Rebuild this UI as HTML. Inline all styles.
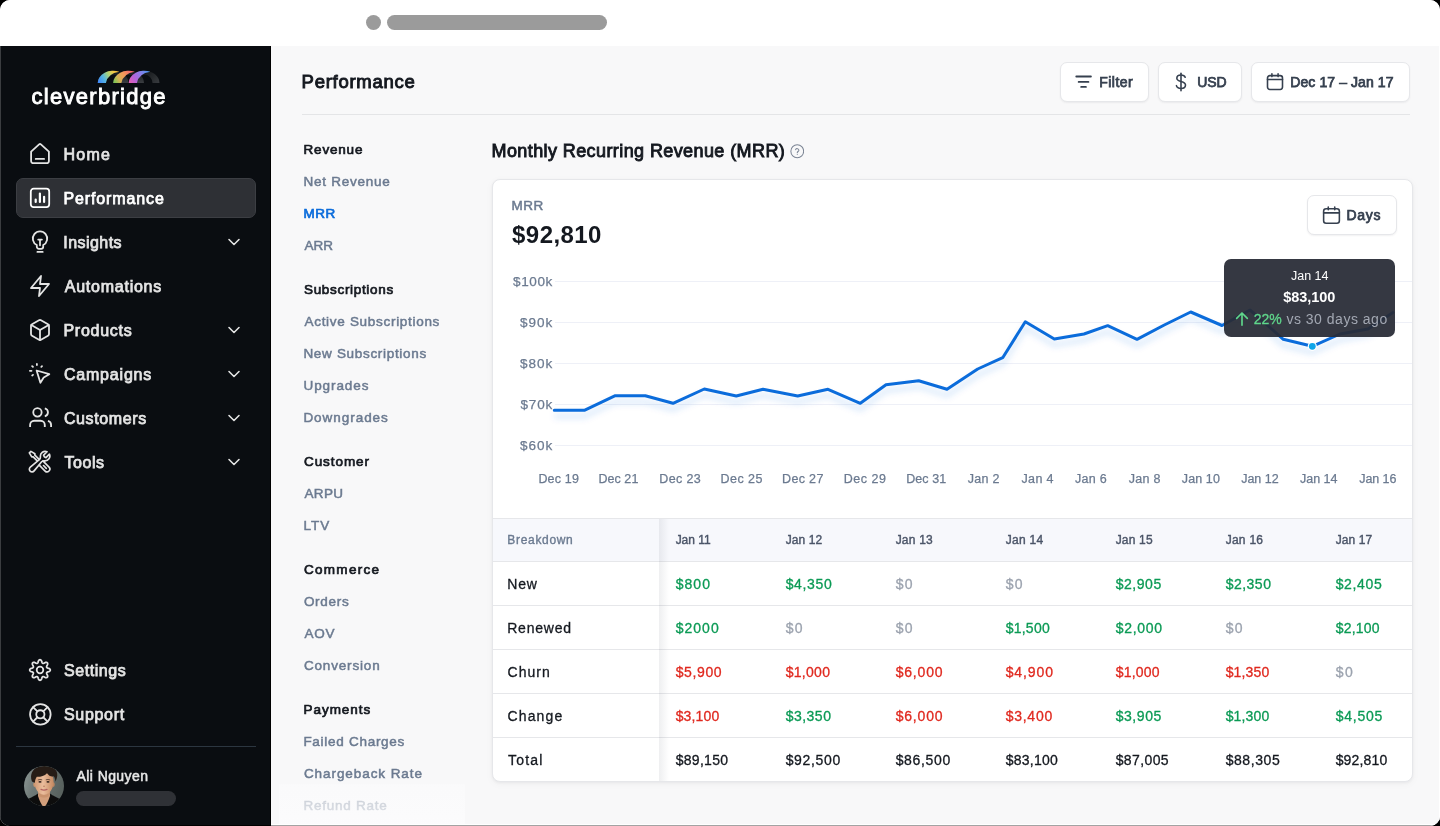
<!DOCTYPE html>
<html lang="en"><head><meta charset="utf-8"><title>Performance - MRR</title>
<style>
html,body{margin:0;padding:0;background:#000;}
body{width:1440px;height:826px;overflow:hidden;position:relative;font-family:"Liberation Sans", sans-serif;}
.b{position:absolute;box-sizing:border-box;}
.t{position:absolute;white-space:nowrap;line-height:1;font-family:"Liberation Sans", sans-serif;}
</style></head><body>
<div class="b" style="left:0;top:0;width:1440px;height:826px;border-radius:10px;overflow:hidden;background:#fff;will-change:transform;">
<div class="b" style="left:0px;top:0px;width:1440px;height:46px;background:#fff;"></div>
<div class="b" style="left:366px;top:15px;width:15px;height:15px;background:#9b9b9b;border-radius:50%;"></div>
<div class="b" style="left:387px;top:15px;width:220px;height:15px;background:#9b9b9b;border-radius:8px;"></div>
<div class="b" style="left:271px;top:46px;width:1169px;height:780px;background:#f8f8f9;"></div>
<div class="b" style="left:0px;top:46px;width:270px;height:780px;background:#0a0d11;"></div>
<div class="b" style="left:270px;top:46px;width:1px;height:780px;background:#000;"></div>
<div class="b" style="left:0px;top:46px;width:1px;height:780px;background:#3b3d40;"></div>
<div class="b" style="left:1439px;top:46px;width:1px;height:780px;background:#fff;"></div>
<div class="b" style="left:271px;top:824px;width:1169px;height:1px;background:#fff;"></div>
<div class="b" style="left:271px;top:825px;width:1169px;height:1px;background:#a3a3a3;"></div>
<div class="b" style="left:0px;top:825px;width:271px;height:1px;background:#000;"></div>
<svg class="b" style="left:90px;top:62px" width="76" height="24" viewBox="90 62 76 24"><defs><linearGradient id="g1" gradientUnits="userSpaceOnUse" x1="99" y1="83" x2="118" y2="71"><stop offset="0" stop-color="#3f86f7"/><stop offset="0.3" stop-color="#55b6e0"/><stop offset="0.55" stop-color="#a8d27a"/><stop offset="0.8" stop-color="#f3c846"/><stop offset="1" stop-color="#f6b93a"/></linearGradient><linearGradient id="g2" gradientUnits="userSpaceOnUse" x1="115" y1="83" x2="135" y2="70"><stop offset="0" stop-color="#7fc455"/><stop offset="0.22" stop-color="#d3b354"/><stop offset="0.5" stop-color="#f39a5a"/><stop offset="0.8" stop-color="#f4696c"/><stop offset="1" stop-color="#f05a70"/></linearGradient><linearGradient id="g3" gradientUnits="userSpaceOnUse" x1="130" y1="83" x2="150" y2="71"><stop offset="0" stop-color="#e35fb4"/><stop offset="0.3" stop-color="#b263dd"/><stop offset="0.6" stop-color="#8a7fe8"/><stop offset="1" stop-color="#3f9cf5"/></linearGradient><linearGradient id="g4" gradientUnits="userSpaceOnUse" x1="146" y1="71" x2="159" y2="83"><stop offset="0" stop-color="#17191c"/><stop offset="0.5" stop-color="#26292c"/><stop offset="1" stop-color="#383b3f"/></linearGradient><linearGradient id="g5" gradientUnits="userSpaceOnUse" x1="0" y1="74" x2="0" y2="83"><stop offset="0" stop-color="#1c1f22"/><stop offset="1" stop-color="#3a3d41"/></linearGradient></defs><path d="M97.70 83 A15.4 12.2 0 0 1 128.50 83 L121.50 83 A7.9 8.3 0 0 0 105.70 83 Z" fill="url(#g5)"/><path d="M113.20 83 A15.4 12.2 0 0 1 144.00 83 L137.00 83 A7.9 8.3 0 0 0 121.20 83 Z" fill="url(#g5)"/><path d="M128.70 83 A15.4 12.2 0 0 1 159.50 83 L152.50 83 A7.9 8.3 0 0 0 136.70 83 Z" fill="url(#g4)"/><path d="M97.70 83 A15.4 12.2 0 0 1 119.30 71.85 Q107.70 73.6 105.90 83 Z" fill="url(#g1)"/><path d="M113.20 83 A15.4 12.2 0 0 1 134.80 71.85 Q123.20 73.6 121.40 83 Z" fill="url(#g2)"/><path d="M128.70 83 A15.4 12.2 0 0 1 150.30 71.85 Q138.70 73.6 136.90 83 Z" fill="url(#g3)"/></svg>
<div class="t" style="left:31.50px;top:86px;font-size:22px;font-weight:400;color:#fff;letter-spacing:1.291px;-webkit-text-stroke:0.9px #fff;">cleverbridge</div>
<div class="b" style="left:16px;top:178px;width:240px;height:40px;background:#2e3035;border:1px solid #3c3e43;border-radius:7px;"></div>
<div class="t" style="left:63.40px;top:147px;font-size:16px;font-weight:400;color:#e4e4e4;letter-spacing:1.306px;-webkit-text-stroke:0.75px #e4e4e4;">Home</div>
<div class="t" style="left:63.40px;top:191px;font-size:16px;font-weight:400;color:#fff;letter-spacing:0.880px;-webkit-text-stroke:0.75px #fff;">Performance</div>
<div class="t" style="left:63.30px;top:235px;font-size:16px;font-weight:400;color:#e4e4e4;letter-spacing:0.451px;-webkit-text-stroke:0.75px #e4e4e4;">Insights</div>
<div class="t" style="left:64.70px;top:279px;font-size:16px;font-weight:400;color:#e4e4e4;letter-spacing:0.766px;-webkit-text-stroke:0.75px #e4e4e4;">Automations</div>
<div class="t" style="left:63.40px;top:323px;font-size:16px;font-weight:400;color:#e4e4e4;letter-spacing:0.751px;-webkit-text-stroke:0.75px #e4e4e4;">Products</div>
<div class="t" style="left:63.90px;top:367px;font-size:16px;font-weight:400;color:#e4e4e4;letter-spacing:0.809px;-webkit-text-stroke:0.75px #e4e4e4;">Campaigns</div>
<div class="t" style="left:63.90px;top:411px;font-size:16px;font-weight:400;color:#e4e4e4;letter-spacing:0.631px;-webkit-text-stroke:0.75px #e4e4e4;">Customers</div>
<div class="t" style="left:64.40px;top:455px;font-size:16px;font-weight:400;color:#e4e4e4;letter-spacing:0.587px;-webkit-text-stroke:0.75px #e4e4e4;">Tools</div>
<div class="t" style="left:64.00px;top:663px;font-size:16px;font-weight:400;color:#e4e4e4;letter-spacing:0.555px;-webkit-text-stroke:0.75px #e4e4e4;">Settings</div>
<div class="t" style="left:64.00px;top:707px;font-size:16px;font-weight:400;color:#e4e4e4;letter-spacing:0.684px;-webkit-text-stroke:0.75px #e4e4e4;">Support</div>
<svg class="b" style="left:224px;top:232px;" width="20" height="20" viewBox="0 0 24 24" fill="none" stroke="#e4e4e4" stroke-width="1.9" stroke-linecap="round" stroke-linejoin="round"><path d="m6 9 6 6 6-6"/></svg>
<svg class="b" style="left:224px;top:320px;" width="20" height="20" viewBox="0 0 24 24" fill="none" stroke="#e4e4e4" stroke-width="1.9" stroke-linecap="round" stroke-linejoin="round"><path d="m6 9 6 6 6-6"/></svg>
<svg class="b" style="left:224px;top:364px;" width="20" height="20" viewBox="0 0 24 24" fill="none" stroke="#e4e4e4" stroke-width="1.9" stroke-linecap="round" stroke-linejoin="round"><path d="m6 9 6 6 6-6"/></svg>
<svg class="b" style="left:224px;top:408px;" width="20" height="20" viewBox="0 0 24 24" fill="none" stroke="#e4e4e4" stroke-width="1.9" stroke-linecap="round" stroke-linejoin="round"><path d="m6 9 6 6 6-6"/></svg>
<svg class="b" style="left:224px;top:452px;" width="20" height="20" viewBox="0 0 24 24" fill="none" stroke="#e4e4e4" stroke-width="1.9" stroke-linecap="round" stroke-linejoin="round"><path d="m6 9 6 6 6-6"/></svg>
<svg class="b" style="left:28px;top:142px;" width="24" height="24" viewBox="0 0 24 24" fill="none" stroke="#e4e4e4" stroke-width="1.8" stroke-linecap="round" stroke-linejoin="round"><path d="M3.100 9.600 11.100 2.400a1.400 1.400 0 0 1 1.800 0l8 7.200V19a2.200 2.200 0 0 1-2.200 2.200H5.300A2.200 2.200 0 0 1 3.100 19z"/><path d="M7.700 16.900h8.400"/></svg>
<svg class="b" style="left:28px;top:186px;" width="24" height="24" viewBox="0 0 24 24" fill="none" stroke="#fff" stroke-width="1.8" stroke-linecap="round" stroke-linejoin="round"><rect x="2.800" y="2.700" width="18.400" height="18.400" rx="2.800"/><path stroke-width="2.200" d="M7.700 16v-2.500M11.900 16V7.600M16.100 16v-5.200"/></svg>
<svg class="b" style="left:28px;top:230px;" width="24" height="24" viewBox="0 0 24 24" fill="none" stroke="#e4e4e4" stroke-width="1.8" stroke-linecap="round" stroke-linejoin="round"><path d="M8.800 15.050A7.200 7.200 0 1 1 15.200 15.050V16.800A2 2 0 0 1 13.200 18.800H10.800A2 2 0 0 1 8.800 16.800Z"/><path d="M10.200 9.600H13.900M12 9.600V15.300M9.400 21.900H14.700"/></svg>
<svg class="b" style="left:28.1px;top:273.9px;" width="24" height="24" viewBox="0 0 24 24" fill="none" stroke="#e4e4e4" stroke-width="1.8" stroke-linecap="round" stroke-linejoin="round"><path d="M13 2 3 14h9l-1 8 10-12h-9l1-8z"/></svg>
<svg class="b" style="left:28px;top:318px;" width="24" height="24" viewBox="0 0 24 24" fill="none" stroke="#e4e4e4" stroke-width="1.8" stroke-linecap="round" stroke-linejoin="round"><path d="M21 8a2 2 0 0 0-1-1.73l-7-4a2 2 0 0 0-2 0l-7 4A2 2 0 0 0 3 8v8a2 2 0 0 0 1 1.730l7 4a2 2 0 0 0 2 0l7-4A2 2 0 0 0 21 16Z"/><path d="m3.300 7 8.700 5 8.700-5"/><path d="M12 22V12"/></svg>
<svg class="b" style="left:28px;top:362px;" width="24" height="24" viewBox="0 0 24 24" fill="none" stroke="#e4e4e4" stroke-width="1.8" stroke-linecap="round" stroke-linejoin="round"><path d="M8.600 8.500 21.300 12.200 15.700 15.500 12.400 20.700Z"/><path d="M8.900 1.900V3M4.100 4.100 4.900 4.800M14 4.100 13.300 4.800M1.900 8.800H3.500M4.200 13.500 5 12.900"/></svg>
<svg class="b" style="left:27.6px;top:405.3px;stroke-linecap:butt;" width="25.2" height="25.2" viewBox="0 0 24 24" fill="none" stroke="#e4e4e4" stroke-width="1.75" stroke-linecap="round" stroke-linejoin="round"><path d="M16 21v-2a4 4 0 0 0-4-4H6a4 4 0 0 0-4 4v2"/><circle cx="9" cy="7" r="4"/><path d="M22 21v-2a4 4 0 0 0-3-3.870"/><path d="M16 3.130a4 4 0 0 1 0 7.750"/></svg>
<svg class="b" style="left:27.4px;top:448.8px;" width="25.2" height="25.2" viewBox="0 0 24 24" fill="none" stroke="#e4e4e4" stroke-width="1.6" stroke-linecap="round" stroke-linejoin="round"><path d="M11.420 15.170 17.250 21A2.652 2.652 0 0 0 21 17.250l-5.877-5.877M11.420 15.170l2.496-3.030c.317-.384.740-.626 1.208-.766M11.420 15.170l-4.655 5.653a2.548 2.548 0 1 1-3.586-3.586l6.837-5.630m5.108-.233c.550-.164 1.163-.188 1.743-.140a4.500 4.500 0 0 0 4.486-6.336l-3.276 3.277a3.004 3.004 0 0 1-2.250-2.250l3.276-3.276a4.500 4.500 0 0 0-6.336 4.486c.091 1.076-.071 2.264-.904 2.950l-.102.085m-1.745 1.437L5.909 7.500H4.500L2.250 3.750l1.500-1.500L7.500 4.500v1.409l4.260 4.260m-1.745 1.437 1.745-1.437m6.615 8.206L15.750 15.750"/></svg>
<svg class="b" style="left:28px;top:658px;" width="24" height="24" viewBox="0 0 24 24" fill="none" stroke="#e4e4e4" stroke-width="1.75" stroke-linecap="round" stroke-linejoin="round"><path d="M12.00 1.70 L12.40 1.77 L12.79 1.96 L13.15 2.28 L13.47 2.72 L13.71 3.42 L13.89 4.12 L14.09 4.58 L14.30 4.94 L14.51 5.19 L14.76 5.35 L15.04 5.41 L15.37 5.38 L15.77 5.27 L16.24 5.09 L16.86 4.72 L17.52 4.40 L18.06 4.31 L18.54 4.34 L18.95 4.48 L19.28 4.72 L19.52 5.05 L19.66 5.46 L19.69 5.94 L19.60 6.48 L19.28 7.14 L18.91 7.76 L18.73 8.23 L18.62 8.63 L18.59 8.96 L18.65 9.24 L18.81 9.49 L19.06 9.70 L19.42 9.91 L19.88 10.11 L20.58 10.29 L21.28 10.53 L21.72 10.85 L22.04 11.21 L22.23 11.60 L22.30 12.00 L22.23 12.40 L22.04 12.79 L21.72 13.15 L21.28 13.47 L20.58 13.71 L19.88 13.89 L19.42 14.09 L19.06 14.30 L18.81 14.51 L18.65 14.76 L18.59 15.04 L18.62 15.37 L18.73 15.77 L18.91 16.24 L19.28 16.86 L19.60 17.52 L19.69 18.06 L19.66 18.54 L19.52 18.95 L19.28 19.28 L18.95 19.52 L18.54 19.66 L18.06 19.69 L17.52 19.60 L16.86 19.28 L16.24 18.91 L15.77 18.73 L15.37 18.62 L15.04 18.59 L14.76 18.65 L14.51 18.81 L14.30 19.06 L14.09 19.42 L13.89 19.88 L13.71 20.58 L13.47 21.28 L13.15 21.72 L12.79 22.04 L12.40 22.23 L12.00 22.30 L11.60 22.23 L11.21 22.04 L10.85 21.72 L10.53 21.28 L10.29 20.58 L10.11 19.88 L9.91 19.42 L9.70 19.06 L9.49 18.81 L9.24 18.65 L8.96 18.59 L8.63 18.62 L8.23 18.73 L7.76 18.91 L7.14 19.28 L6.48 19.60 L5.94 19.69 L5.46 19.66 L5.05 19.52 L4.72 19.28 L4.48 18.95 L4.34 18.54 L4.31 18.06 L4.40 17.52 L4.72 16.86 L5.09 16.24 L5.27 15.77 L5.38 15.37 L5.41 15.04 L5.35 14.76 L5.19 14.51 L4.94 14.30 L4.58 14.09 L4.12 13.89 L3.42 13.71 L2.72 13.47 L2.28 13.15 L1.96 12.79 L1.77 12.40 L1.70 12.00 L1.77 11.60 L1.96 11.21 L2.28 10.85 L2.72 10.53 L3.42 10.29 L4.12 10.11 L4.58 9.91 L4.94 9.70 L5.19 9.49 L5.35 9.24 L5.41 8.96 L5.38 8.63 L5.27 8.23 L5.09 7.76 L4.72 7.14 L4.40 6.48 L4.31 5.94 L4.34 5.46 L4.48 5.05 L4.72 4.72 L5.05 4.48 L5.46 4.34 L5.94 4.31 L6.48 4.40 L7.14 4.72 L7.76 5.09 L8.23 5.27 L8.63 5.38 L8.96 5.41 L9.24 5.35 L9.49 5.19 L9.70 4.94 L9.91 4.58 L10.11 4.12 L10.29 3.42 L10.53 2.72 L10.85 2.28 L11.21 1.96 L11.60 1.77Z"/><circle cx="12" cy="12" r="3.300"/></svg>
<svg class="b" style="left:27.65px;top:701.65px;" width="24.7" height="24.7" viewBox="0 0 24 24" fill="none" stroke="#e4e4e4" stroke-width="1.75" stroke-linecap="round" stroke-linejoin="round"><circle cx="12" cy="12" r="10"/><path d="m4.930 4.930 4.240 4.240"/><path d="m14.830 9.170 4.240-4.240"/><path d="m14.830 14.830 4.240 4.240"/><path d="m9.170 14.830-4.240 4.240"/><circle cx="12" cy="12" r="4"/></svg>
<div class="b" style="left:16px;top:746px;width:240px;height:1px;background:#2c3640;"></div>
<svg class="b" style="left:24px;top:766px" width="40" height="40" viewBox="0 0 40 40">
<defs><clipPath id="av"><circle cx="20" cy="20" r="20"/></clipPath>
<linearGradient id="avbg" x1="0" y1="0" x2="1" y2="0.3"><stop offset="0" stop-color="#8f9997"/><stop offset="0.35" stop-color="#6f7a78"/><stop offset="1" stop-color="#59625f"/></linearGradient>
<linearGradient id="avsk" x1="0" y1="0" x2="1" y2="0"><stop offset="0" stop-color="#d19a74"/><stop offset="0.45" stop-color="#eabd9c"/><stop offset="1" stop-color="#c58a62"/></linearGradient>
<filter id="avbl" x="-10%" y="-10%" width="120%" height="120%"><feGaussianBlur stdDeviation="0.550"/></filter></defs>
<g clip-path="url(#av)"><rect width="40" height="40" fill="url(#avbg)"/>
<g filter="url(#avbl)">
<path d="M-2 37 C4 32 11 30.500 15 26.500 L25 26.500 C29 30.500 36 32 42 37 L42 42 L-2 42 Z" fill="#0b0b0c"/>
<path d="M14.300 22 L25.700 22 L26 30 C24.500 35 22 39.500 20.600 41 L19.400 41 C17.800 39 15.500 35 14 30 Z" fill="#d39f7b"/>
<ellipse cx="10.600" cy="18.600" rx="1.300" ry="2.300" fill="#c9946f"/><ellipse cx="29.400" cy="18.600" rx="1.300" ry="2.300" fill="#b98562"/>
<path d="M10.400 15 C10.400 9 14 5.500 20 5.500 C26 5.500 29.600 9 29.600 15 C29.600 21 27 26 23.500 28 C21.500 29.100 18.500 29.100 16.500 28 C13 26 10.400 21 10.400 15 Z" fill="url(#avsk)"/>
<path d="M15.500 27 C18 29.500 22 29.500 24.500 27 L25 30 C22 32 18 32 15 30 Z" fill="#c58d68" opacity="0.700"/>
<path d="M7.800 15 C5.800 9 8 2.800 14.500 1 C20 -0.800 28 0 31.400 3.800 C34.200 7 33.600 11.500 31.400 15.600 C31.200 13 30.800 11.600 29.800 10.200 C27.500 11.400 24.800 9.600 23 7.200 C20.500 10 16 11 12.800 10.800 C11.600 12.200 11.200 14 10.800 16.800 C9.600 16.400 8.400 16 7.800 15 Z" fill="#251c18"/>
<path d="M13.800 14 Q16 13 18.200 13.900 M21.800 13.900 Q24 13 26.200 14" stroke="#4a3429" stroke-width="0.800" fill="none"/>
<ellipse cx="16" cy="15.900" rx="1.600" ry="0.800" fill="#35261f"/><ellipse cx="24" cy="15.900" rx="1.600" ry="0.800" fill="#35261f"/>
<path d="M19 20 Q20 20.900 21 20" stroke="#b57d5c" stroke-width="0.900" fill="none"/>
<path d="M17 23.400 Q20 24.700 23 23.400" stroke="#b2625f" stroke-width="1.200" fill="none" stroke-linecap="round"/>
</g></g></svg>
<div class="t" style="left:76.50px;top:769px;font-size:14px;font-weight:400;color:#e8e8e8;letter-spacing:0.420px;-webkit-text-stroke:0.5px #e8e8e8;">Ali Nguyen</div>
<div class="b" style="left:76px;top:791px;width:100px;height:15px;background:#2f3136;border-radius:8px;"></div>
<div class="t" style="left:301.60px;top:73px;font-size:18.5px;font-weight:400;color:#14181f;letter-spacing:0.718px;-webkit-text-stroke:0.95px #14181f;">Performance</div>
<div class="b" style="left:302px;top:114px;width:1108px;height:1px;background:#e4e5e7;"></div>
<div class="b" style="left:1060px;top:62px;width:89px;height:39.5px;background:#fff;border:1px solid #e6e7ea;border-radius:7px;box-shadow:0 1px 2px rgba(16,24,40,0.06);"></div>
<div class="b" style="left:1158px;top:62px;width:84px;height:39.5px;background:#fff;border:1px solid #e6e7ea;border-radius:7px;box-shadow:0 1px 2px rgba(16,24,40,0.06);"></div>
<div class="b" style="left:1251px;top:62px;width:158.5px;height:39.5px;background:#fff;border:1px solid #e6e7ea;border-radius:7px;box-shadow:0 1px 2px rgba(16,24,40,0.06);"></div>
<svg class="b" style="left:1072px;top:70px;" width="24" height="24" viewBox="0 0 24 24" fill="none" stroke="#36404f" stroke-width="1.9" stroke-linecap="round" stroke-linejoin="round"><path d="M4.300 6.500h14.600M6.700 11.900h9.700M9.200 16.900h4.700"/></svg>
<div class="t" style="left:1099.30px;top:75px;font-size:14px;font-weight:400;color:#36404f;letter-spacing:0.450px;-webkit-text-stroke:0.75px #36404f;">Filter</div>
<svg class="b" style="left:1171px;top:72px;" width="20" height="20" viewBox="0 0 24 24" fill="none" stroke="#36404f" stroke-width="1.9" stroke-linecap="round" stroke-linejoin="round"><path d="M12 1.500v21"/><path d="M17 6.200c-.6-1.600-2.400-2.700-5-2.700-3 0-5 1.500-5 3.900 0 5.200 10.400 2.600 10.400 8.200 0 2.600-2.300 4.100-5.400 4.100-2.900 0-5-1.300-5.500-3.300"/></svg>
<div class="t" style="left:1197.20px;top:75px;font-size:14px;font-weight:400;color:#36404f;letter-spacing:-0.124px;-webkit-text-stroke:0.75px #36404f;">USD</div>
<svg class="b" style="left:1264.5px;top:71.5px;" width="20" height="20" viewBox="0 0 24 24" fill="none" stroke="#36404f" stroke-width="1.9" stroke-linecap="round" stroke-linejoin="round"><rect x="3" y="4.300" width="18" height="16.600" rx="2.800"/><path d="M3 9h18M8.300 2.200v3.300M15.700 2.200v3.300"/></svg>
<div class="t" style="left:1290.30px;top:75px;font-size:14px;font-weight:400;color:#36404f;letter-spacing:0.088px;-webkit-text-stroke:0.75px #36404f;">Dec 17 – Jan 17</div>
<div class="t" style="left:303.50px;top:143px;font-size:13.5px;font-weight:400;color:#14181f;letter-spacing:0.811px;-webkit-text-stroke:0.7px #14181f;">Revenue</div>
<div class="t" style="left:303.40px;top:175px;font-size:13.5px;font-weight:400;color:#6b7a90;letter-spacing:0.751px;-webkit-text-stroke:0.5px #6b7a90;">Net Revenue</div>
<div class="t" style="left:303.50px;top:207px;font-size:13.5px;font-weight:400;color:#0b6cdb;letter-spacing:0.553px;-webkit-text-stroke:0.7px #0b6cdb;">MRR</div>
<div class="t" style="left:304.50px;top:239px;font-size:13.5px;font-weight:400;color:#6b7a90;letter-spacing:0.023px;-webkit-text-stroke:0.5px #6b7a90;">ARR</div>
<div class="t" style="left:304.00px;top:283px;font-size:13.5px;font-weight:400;color:#14181f;letter-spacing:0.676px;-webkit-text-stroke:0.7px #14181f;">Subscriptions</div>
<div class="t" style="left:304.50px;top:315px;font-size:13.5px;font-weight:400;color:#6b7a90;letter-spacing:0.700px;-webkit-text-stroke:0.5px #6b7a90;">Active Subscriptions</div>
<div class="t" style="left:303.40px;top:347px;font-size:13.5px;font-weight:400;color:#6b7a90;letter-spacing:0.685px;-webkit-text-stroke:0.5px #6b7a90;">New Subscriptions</div>
<div class="t" style="left:303.50px;top:379px;font-size:13.5px;font-weight:400;color:#6b7a90;letter-spacing:0.916px;-webkit-text-stroke:0.5px #6b7a90;">Upgrades</div>
<div class="t" style="left:303.40px;top:411px;font-size:13.5px;font-weight:400;color:#6b7a90;letter-spacing:0.962px;-webkit-text-stroke:0.5px #6b7a90;">Downgrades</div>
<div class="t" style="left:304.00px;top:455px;font-size:13.5px;font-weight:400;color:#14181f;letter-spacing:0.926px;-webkit-text-stroke:0.7px #14181f;">Customer</div>
<div class="t" style="left:304.50px;top:487px;font-size:13.5px;font-weight:400;color:#6b7a90;letter-spacing:0.314px;-webkit-text-stroke:0.5px #6b7a90;">ARPU</div>
<div class="t" style="left:303.40px;top:519px;font-size:13.5px;font-weight:400;color:#6b7a90;letter-spacing:1.024px;-webkit-text-stroke:0.5px #6b7a90;">LTV</div>
<div class="t" style="left:304.00px;top:563px;font-size:13.5px;font-weight:400;color:#14181f;letter-spacing:1.285px;-webkit-text-stroke:0.7px #14181f;">Commerce</div>
<div class="t" style="left:303.90px;top:595px;font-size:13.5px;font-weight:400;color:#6b7a90;letter-spacing:0.698px;-webkit-text-stroke:0.5px #6b7a90;">Orders</div>
<div class="t" style="left:304.50px;top:627px;font-size:13.5px;font-weight:400;color:#6b7a90;letter-spacing:0.697px;-webkit-text-stroke:0.5px #6b7a90;">AOV</div>
<div class="t" style="left:303.90px;top:659px;font-size:13.5px;font-weight:400;color:#6b7a90;letter-spacing:0.836px;-webkit-text-stroke:0.5px #6b7a90;">Conversion</div>
<div class="t" style="left:303.50px;top:703px;font-size:13.5px;font-weight:400;color:#14181f;letter-spacing:0.961px;-webkit-text-stroke:0.7px #14181f;">Payments</div>
<div class="t" style="left:303.40px;top:735px;font-size:13.5px;font-weight:400;color:#6b7a90;letter-spacing:0.723px;-webkit-text-stroke:0.5px #6b7a90;">Failed Charges</div>
<div class="t" style="left:303.90px;top:767px;font-size:13.5px;font-weight:400;color:#6b7a90;letter-spacing:0.932px;-webkit-text-stroke:0.5px #6b7a90;">Chargeback Rate</div>
<div class="t" style="left:303.40px;top:799px;font-size:13.5px;font-weight:400;color:#6b7a90;letter-spacing:0.751px;-webkit-text-stroke:0.5px #6b7a90;">Refund Rate</div>
<div class="b" style="left:279px;top:784px;width:186px;height:40px;background:linear-gradient(to bottom,rgba(251,251,252,0.6),rgba(252,252,253,0.82));"></div>
<div class="t" style="left:491.50px;top:142px;font-size:18px;font-weight:400;color:#14181f;letter-spacing:0.407px;-webkit-text-stroke:0.9px #14181f;">Monthly Recurring Revenue (MRR)</div>
<svg class="b" style="left:789.5px;top:144.3px;" width="14.5" height="14.5" viewBox="0 0 24 24" fill="none" stroke="#7b8494" stroke-width="1.7" stroke-linecap="round" stroke-linejoin="round"><circle cx="12" cy="12" r="10.600"/><path d="M9.300 9.400a2.800 2.800 0 0 1 5.400 .9c0 1.900-2.700 2.300-2.700 4"/><path d="M12 17.300v.1"/></svg>
<div class="b" style="left:492px;top:179px;width:921px;height:603px;background:#fff;border:1px solid #e6e7ea;border-radius:8px;box-shadow:0 1px 3px rgba(16,24,40,0.05),0 2px 8px rgba(16,24,40,0.035);"></div>
<div class="t" style="left:511.40px;top:199px;font-size:13.5px;font-weight:400;color:#6b7a90;letter-spacing:0.503px;-webkit-text-stroke:0.5px #6b7a90;">MRR</div>
<div class="t" style="left:512.10px;top:223px;font-size:24px;font-weight:700;color:#14181f;letter-spacing:0.432px;">$92,810</div>
<div class="b" style="left:1307px;top:195px;width:89.5px;height:39.5px;background:#fff;border:1px solid #e6e7ea;border-radius:7px;box-shadow:0 1px 2px rgba(16,24,40,0.06);"></div>
<svg class="b" style="left:1320.8px;top:205px;" width="21" height="21" viewBox="0 0 24 24" fill="none" stroke="#36404f" stroke-width="1.8" stroke-linecap="round" stroke-linejoin="round"><rect x="3" y="4.300" width="18" height="16.600" rx="2.800"/><path d="M3 9h18M8.300 2.200v3.300M15.700 2.200v3.300"/></svg>
<div class="t" style="left:1346.40px;top:208px;font-size:14px;font-weight:400;color:#36404f;letter-spacing:0.735px;-webkit-text-stroke:0.75px #36404f;">Days</div>
<div class="b" style="left:555px;top:281px;width:857px;height:1px;background:#eef0f7;"></div>
<div class="t" style="left:513.00px;top:275px;font-size:13.5px;font-weight:400;color:#6b7a90;letter-spacing:0.642px;-webkit-text-stroke:0.25px #6b7a90;">$100k</div>
<div class="b" style="left:555px;top:322px;width:857px;height:1px;background:#eef0f7;"></div>
<div class="t" style="left:519.90px;top:316px;font-size:13.5px;font-weight:400;color:#6b7a90;letter-spacing:1.059px;-webkit-text-stroke:0.25px #6b7a90;">$90k</div>
<div class="b" style="left:555px;top:363px;width:857px;height:1px;background:#eef0f7;"></div>
<div class="t" style="left:519.90px;top:357px;font-size:13.5px;font-weight:400;color:#6b7a90;letter-spacing:1.059px;-webkit-text-stroke:0.25px #6b7a90;">$80k</div>
<div class="b" style="left:555px;top:404px;width:857px;height:1px;background:#eef0f7;"></div>
<div class="t" style="left:520.40px;top:398px;font-size:13.5px;font-weight:400;color:#6b7a90;letter-spacing:0.892px;-webkit-text-stroke:0.25px #6b7a90;">$70k</div>
<div class="b" style="left:555px;top:445px;width:857px;height:1px;background:#eef0f7;"></div>
<div class="t" style="left:519.90px;top:439px;font-size:13.5px;font-weight:400;color:#6b7a90;letter-spacing:1.059px;-webkit-text-stroke:0.25px #6b7a90;">$60k</div>
<div class="t" style="left:538.40px;top:473px;font-size:12.5px;font-weight:400;color:#6b7a90;letter-spacing:0.189px;-webkit-text-stroke:0.25px #6b7a90;">Dec 19</div>
<div class="t" style="left:598.40px;top:473px;font-size:12.5px;font-weight:400;color:#6b7a90;letter-spacing:0.069px;-webkit-text-stroke:0.25px #6b7a90;">Dec 21</div>
<div class="t" style="left:659.30px;top:473px;font-size:12.5px;font-weight:400;color:#6b7a90;letter-spacing:0.369px;-webkit-text-stroke:0.25px #6b7a90;">Dec 23</div>
<div class="t" style="left:720.60px;top:473px;font-size:12.5px;font-weight:400;color:#6b7a90;letter-spacing:0.429px;-webkit-text-stroke:0.25px #6b7a90;">Dec 25</div>
<div class="t" style="left:782.10px;top:473px;font-size:12.5px;font-weight:400;color:#6b7a90;letter-spacing:0.329px;-webkit-text-stroke:0.25px #6b7a90;">Dec 27</div>
<div class="t" style="left:843.70px;top:473px;font-size:12.5px;font-weight:400;color:#6b7a90;letter-spacing:0.509px;-webkit-text-stroke:0.25px #6b7a90;">Dec 29</div>
<div class="t" style="left:906.20px;top:473px;font-size:12.5px;font-weight:400;color:#6b7a90;letter-spacing:0.069px;-webkit-text-stroke:0.25px #6b7a90;">Dec 31</div>
<div class="t" style="left:967.70px;top:473px;font-size:12.5px;font-weight:400;color:#6b7a90;letter-spacing:0.318px;-webkit-text-stroke:0.25px #6b7a90;">Jan 2</div>
<div class="t" style="left:1021.50px;top:473px;font-size:12.5px;font-weight:400;color:#6b7a90;letter-spacing:0.343px;-webkit-text-stroke:0.25px #6b7a90;">Jan 4</div>
<div class="t" style="left:1074.90px;top:473px;font-size:12.5px;font-weight:400;color:#6b7a90;letter-spacing:0.318px;-webkit-text-stroke:0.25px #6b7a90;">Jan 6</div>
<div class="t" style="left:1128.70px;top:473px;font-size:12.5px;font-weight:400;color:#6b7a90;letter-spacing:0.293px;-webkit-text-stroke:0.25px #6b7a90;">Jan 8</div>
<div class="t" style="left:1181.80px;top:473px;font-size:12.5px;font-weight:400;color:#6b7a90;letter-spacing:0.104px;-webkit-text-stroke:0.25px #6b7a90;">Jan 10</div>
<div class="t" style="left:1241.20px;top:473px;font-size:12.5px;font-weight:400;color:#6b7a90;letter-spacing:-0.016px;-webkit-text-stroke:0.25px #6b7a90;">Jan 12</div>
<div class="t" style="left:1299.90px;top:473px;font-size:12.5px;font-weight:400;color:#6b7a90;letter-spacing:0.024px;-webkit-text-stroke:0.25px #6b7a90;">Jan 14</div>
<div class="t" style="left:1359.30px;top:473px;font-size:12.5px;font-weight:400;color:#6b7a90;letter-spacing:-0.096px;-webkit-text-stroke:0.25px #6b7a90;">Jan 16</div>
<svg class="b" style="left:492px;top:250px" width="921" height="220" viewBox="492 250 921 220">
<defs><filter id="sh" x="-5%" y="-30%" width="110%" height="180%"><feGaussianBlur stdDeviation="3"/></filter></defs>
<polyline points="554.3,410.3 584.3,410.3 615.3,395.7 645.3,395.7 673.0,403.3 704.3,389.0 736.3,396.0 763.0,389.3 797.7,396.0 828.0,389.3 860.3,403.3 886.0,384.7 918.7,380.7 947.0,389.3 977.7,369.0 1002.7,357.7 1025.3,321.7 1054.3,339.0 1084.0,334.0 1107.7,325.7 1137.0,339.3 1164.3,325.0 1190.7,312.0 1222.0,325.5 1250.0,310.0 1283.3,339.3 1312.3,346.3 1340.0,334.0 1368.0,329.0 1393.0,312.5" fill="none" stroke="#0b6cdb" stroke-opacity="0.17" stroke-width="4" transform="translate(0,6)" filter="url(#sh)"/>
<polyline points="554.3,410.3 584.3,410.3 615.3,395.7 645.3,395.7 673.0,403.3 704.3,389.0 736.3,396.0 763.0,389.3 797.7,396.0 828.0,389.3 860.3,403.3 886.0,384.7 918.7,380.7 947.0,389.3 977.7,369.0 1002.7,357.7 1025.3,321.7 1054.3,339.0 1084.0,334.0 1107.7,325.7 1137.0,339.3 1164.3,325.0 1190.7,312.0 1222.0,325.5 1250.0,310.0 1283.3,339.3 1312.3,346.3 1340.0,334.0 1368.0,329.0 1393.0,312.5" fill="none" stroke="#0b6cdb" stroke-width="3" stroke-linejoin="round" stroke-linecap="round"/>
<circle cx="1312.3" cy="346.300" r="4.600" fill="#fff"/><circle cx="1312.300" cy="346.300" r="3.400" fill="#0ea5e9"/>
</svg>
<div class="b" style="left:1224px;top:259px;width:171px;height:78px;background:rgba(40,44,54,0.94);border-radius:7px;"></div>
<div class="t" style="left:1290.90px;top:270px;font-size:12.5px;font-weight:400;color:#fff;letter-spacing:0.024px;">Jan 14</div>
<div class="t" style="left:1283.20px;top:290px;font-size:14.5px;font-weight:700;color:#fff;letter-spacing:-0.042px;">$83,100</div>
<svg class="b" style="left:1232px;top:308.8px;" width="20" height="20" viewBox="0 0 24 24" fill="none" stroke="#5fd68b" stroke-width="2" stroke-linecap="round" stroke-linejoin="round"><path d="M12 19.500V4.800M5.600 11.200 12 4.800l6.400 6.400"/></svg>
<div class="t" style="left:1253.80px;top:312px;font-size:14px;font-weight:400;color:#5fd68b;letter-spacing:-0.036px;-webkit-text-stroke:0.3px #5fd68b;">22%</div>
<div class="t" style="left:1286.40px;top:312px;font-size:14px;font-weight:400;color:#a3a8b3;letter-spacing:0.509px;">vs 30 days ago</div>
<div class="b" style="left:493px;top:518px;width:919px;height:1px;background:#e6e7ea;"></div>
<div class="b" style="left:493px;top:519px;width:919px;height:42px;background:#f7f8fc;"></div>
<div class="b" style="left:493px;top:561px;width:919px;height:1px;background:#e6e7ea;"></div>
<div class="b" style="left:493px;top:605px;width:919px;height:1px;background:#e6e7ea;"></div>
<div class="b" style="left:493px;top:649px;width:919px;height:1px;background:#e6e7ea;"></div>
<div class="b" style="left:493px;top:693px;width:919px;height:1px;background:#e6e7ea;"></div>
<div class="b" style="left:493px;top:737px;width:919px;height:1px;background:#e6e7ea;"></div>
<div class="b" style="left:659px;top:519px;width:10px;height:262px;background:linear-gradient(to right,rgba(20,30,50,0.07),rgba(20,30,50,0));"></div>
<div class="t" style="left:507.35px;top:534px;font-size:12px;font-weight:400;color:#6b7a90;letter-spacing:0.674px;-webkit-text-stroke:0.35px #6b7a90;">Breakdown</div>
<div class="t" style="left:675.65px;top:534px;font-size:12px;font-weight:400;color:#4b5568;letter-spacing:-0.043px;-webkit-text-stroke:0.4px #4b5568;">Jan 11</div>
<div class="t" style="left:785.65px;top:534px;font-size:12px;font-weight:400;color:#4b5568;letter-spacing:0.079px;-webkit-text-stroke:0.4px #4b5568;">Jan 12</div>
<div class="t" style="left:895.65px;top:534px;font-size:12px;font-weight:400;color:#4b5568;letter-spacing:0.209px;-webkit-text-stroke:0.4px #4b5568;">Jan 13</div>
<div class="t" style="left:1005.65px;top:534px;font-size:12px;font-weight:400;color:#4b5568;letter-spacing:0.289px;-webkit-text-stroke:0.4px #4b5568;">Jan 14</div>
<div class="t" style="left:1115.65px;top:534px;font-size:12px;font-weight:400;color:#4b5568;letter-spacing:0.189px;-webkit-text-stroke:0.4px #4b5568;">Jan 15</div>
<div class="t" style="left:1225.65px;top:534px;font-size:12px;font-weight:400;color:#4b5568;letter-spacing:0.269px;-webkit-text-stroke:0.4px #4b5568;">Jan 16</div>
<div class="t" style="left:1335.65px;top:534px;font-size:12px;font-weight:400;color:#4b5568;letter-spacing:0.109px;-webkit-text-stroke:0.4px #4b5568;">Jan 17</div>
<div class="t" style="left:507.15px;top:577px;font-size:14px;font-weight:400;color:#14181f;letter-spacing:0.877px;-webkit-text-stroke:0.3px #14181f;">New</div>
<div class="t" style="left:675.65px;top:577px;font-size:14px;font-weight:400;color:#0b9a55;letter-spacing:1.064px;-webkit-text-stroke:0.3px #0b9a55;">$800</div>
<div class="t" style="left:785.65px;top:577px;font-size:14px;font-weight:400;color:#0b9a55;letter-spacing:0.653px;-webkit-text-stroke:0.3px #0b9a55;">$4,350</div>
<div class="t" style="left:895.65px;top:577px;font-size:14px;font-weight:400;color:#9ca3af;letter-spacing:1.314px;-webkit-text-stroke:0.3px #9ca3af;">$0</div>
<div class="t" style="left:1005.65px;top:577px;font-size:14px;font-weight:400;color:#9ca3af;letter-spacing:1.314px;-webkit-text-stroke:0.3px #9ca3af;">$0</div>
<div class="t" style="left:1115.65px;top:577px;font-size:14px;font-weight:400;color:#0b9a55;letter-spacing:0.553px;-webkit-text-stroke:0.3px #0b9a55;">$2,905</div>
<div class="t" style="left:1225.65px;top:577px;font-size:14px;font-weight:400;color:#0b9a55;letter-spacing:0.493px;-webkit-text-stroke:0.3px #0b9a55;">$2,350</div>
<div class="t" style="left:1335.65px;top:577px;font-size:14px;font-weight:400;color:#0b9a55;letter-spacing:0.673px;-webkit-text-stroke:0.3px #0b9a55;">$2,405</div>
<div class="t" style="left:507.15px;top:621px;font-size:14px;font-weight:400;color:#14181f;letter-spacing:0.806px;-webkit-text-stroke:0.3px #14181f;">Renewed</div>
<div class="t" style="left:675.65px;top:621px;font-size:14px;font-weight:400;color:#0b9a55;letter-spacing:1.039px;-webkit-text-stroke:0.3px #0b9a55;">$2000</div>
<div class="t" style="left:785.65px;top:621px;font-size:14px;font-weight:400;color:#9ca3af;letter-spacing:1.314px;-webkit-text-stroke:0.3px #9ca3af;">$0</div>
<div class="t" style="left:895.65px;top:621px;font-size:14px;font-weight:400;color:#9ca3af;letter-spacing:1.314px;-webkit-text-stroke:0.3px #9ca3af;">$0</div>
<div class="t" style="left:1005.65px;top:621px;font-size:14px;font-weight:400;color:#0b9a55;letter-spacing:0.253px;-webkit-text-stroke:0.3px #0b9a55;">$1,500</div>
<div class="t" style="left:1115.65px;top:621px;font-size:14px;font-weight:400;color:#0b9a55;letter-spacing:0.713px;-webkit-text-stroke:0.3px #0b9a55;">$2,000</div>
<div class="t" style="left:1225.65px;top:621px;font-size:14px;font-weight:400;color:#9ca3af;letter-spacing:1.314px;-webkit-text-stroke:0.3px #9ca3af;">$0</div>
<div class="t" style="left:1335.65px;top:621px;font-size:14px;font-weight:400;color:#0b9a55;letter-spacing:0.233px;-webkit-text-stroke:0.3px #0b9a55;">$2,100</div>
<div class="t" style="left:507.55px;top:665px;font-size:14px;font-weight:400;color:#14181f;letter-spacing:1.026px;-webkit-text-stroke:0.3px #14181f;">Churn</div>
<div class="t" style="left:675.65px;top:665px;font-size:14px;font-weight:400;color:#e0291f;letter-spacing:0.633px;-webkit-text-stroke:0.3px #e0291f;">$5,900</div>
<div class="t" style="left:785.65px;top:665px;font-size:14px;font-weight:400;color:#e0291f;letter-spacing:0.293px;-webkit-text-stroke:0.3px #e0291f;">$1,000</div>
<div class="t" style="left:895.65px;top:665px;font-size:14px;font-weight:400;color:#e0291f;letter-spacing:0.813px;-webkit-text-stroke:0.3px #e0291f;">$6,000</div>
<div class="t" style="left:1005.65px;top:665px;font-size:14px;font-weight:400;color:#e0291f;letter-spacing:0.893px;-webkit-text-stroke:0.3px #e0291f;">$4,900</div>
<div class="t" style="left:1115.65px;top:665px;font-size:14px;font-weight:400;color:#e0291f;letter-spacing:0.233px;-webkit-text-stroke:0.3px #e0291f;">$1,000</div>
<div class="t" style="left:1225.65px;top:665px;font-size:14px;font-weight:400;color:#e0291f;letter-spacing:0.173px;-webkit-text-stroke:0.3px #e0291f;">$1,350</div>
<div class="t" style="left:1335.65px;top:665px;font-size:14px;font-weight:400;color:#9ca3af;letter-spacing:1.514px;-webkit-text-stroke:0.3px #9ca3af;">$0</div>
<div class="t" style="left:507.55px;top:709px;font-size:14px;font-weight:400;color:#14181f;letter-spacing:1.119px;-webkit-text-stroke:0.3px #14181f;">Change</div>
<div class="t" style="left:675.65px;top:709px;font-size:14px;font-weight:400;color:#e0291f;letter-spacing:0.173px;-webkit-text-stroke:0.3px #e0291f;">$3,100</div>
<div class="t" style="left:785.65px;top:709px;font-size:14px;font-weight:400;color:#0b9a55;letter-spacing:0.493px;-webkit-text-stroke:0.3px #0b9a55;">$3,350</div>
<div class="t" style="left:895.65px;top:709px;font-size:14px;font-weight:400;color:#e0291f;letter-spacing:0.813px;-webkit-text-stroke:0.3px #e0291f;">$6,000</div>
<div class="t" style="left:1005.65px;top:709px;font-size:14px;font-weight:400;color:#e0291f;letter-spacing:0.753px;-webkit-text-stroke:0.3px #e0291f;">$3,400</div>
<div class="t" style="left:1115.65px;top:709px;font-size:14px;font-weight:400;color:#0b9a55;letter-spacing:0.573px;-webkit-text-stroke:0.3px #0b9a55;">$3,905</div>
<div class="t" style="left:1225.65px;top:709px;font-size:14px;font-weight:400;color:#0b9a55;letter-spacing:0.153px;-webkit-text-stroke:0.3px #0b9a55;">$1,300</div>
<div class="t" style="left:1335.65px;top:709px;font-size:14px;font-weight:400;color:#0b9a55;letter-spacing:0.773px;-webkit-text-stroke:0.3px #0b9a55;">$4,505</div>
<div class="t" style="left:507.95px;top:753px;font-size:14px;font-weight:400;color:#14181f;letter-spacing:1.222px;-webkit-text-stroke:0.3px #14181f;">Total</div>
<div class="t" style="left:675.65px;top:753px;font-size:14px;font-weight:400;color:#14181f;letter-spacing:0.297px;-webkit-text-stroke:0.3px #14181f;">$89,150</div>
<div class="t" style="left:785.65px;top:753px;font-size:14px;font-weight:400;color:#14181f;letter-spacing:0.663px;-webkit-text-stroke:0.3px #14181f;">$92,500</div>
<div class="t" style="left:895.65px;top:753px;font-size:14px;font-weight:400;color:#14181f;letter-spacing:0.663px;-webkit-text-stroke:0.3px #14181f;">$86,500</div>
<div class="t" style="left:1005.65px;top:753px;font-size:14px;font-weight:400;color:#14181f;letter-spacing:0.247px;-webkit-text-stroke:0.3px #14181f;">$83,100</div>
<div class="t" style="left:1115.65px;top:753px;font-size:14px;font-weight:400;color:#14181f;letter-spacing:0.397px;-webkit-text-stroke:0.3px #14181f;">$87,005</div>
<div class="t" style="left:1225.65px;top:753px;font-size:14px;font-weight:400;color:#14181f;letter-spacing:0.580px;-webkit-text-stroke:0.3px #14181f;">$88,305</div>
<div class="t" style="left:1335.65px;top:753px;font-size:14px;font-weight:400;color:#14181f;letter-spacing:0.163px;-webkit-text-stroke:0.3px #14181f;">$92,810</div>
</div>
</body></html>
